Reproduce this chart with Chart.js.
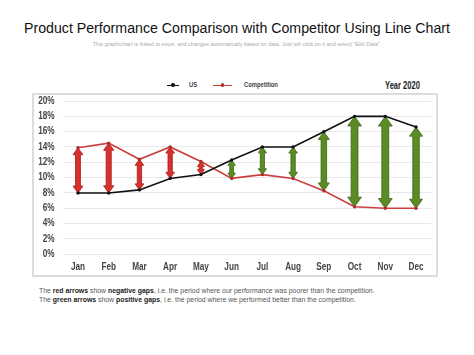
<!DOCTYPE html>
<html><head><meta charset="utf-8">
<script src="https://cdn.jsdelivr.net/npm/chart.js@4.4.0/dist/chart.umd.min.js"></script>
<style>
html,body{margin:0;padding:0;background:#fff;width:474px;height:355px;overflow:hidden;font-family:"Liberation Sans",Arial,sans-serif;}
#title{position:absolute;left:24px;top:19px;font-size:15.5px;color:#111;white-space:nowrap;transform-origin:0 0;}
#sub{position:absolute;left:0;top:41px;width:474px;text-align:center;font-size:5.5px;color:#aaa;white-space:nowrap;}
#legend{position:absolute;top:79px;left:0;width:474px;height:12px;font-weight:bold;font-size:7px;color:#444;}
.li{position:absolute;top:0;height:12px;line-height:12px;white-space:nowrap;}
.sym{position:absolute;top:5.5px;height:1.5px;}
.dot{position:absolute;top:4.2px;width:3.5px;height:3.5px;border-radius:50%;}
.lt{position:absolute;top:0;transform:scaleX(0.83);transform-origin:0 0;}
#year{position:absolute;left:385px;top:78.5px;font-weight:bold;font-size:10.5px;color:#222;transform:scaleX(0.72);transform-origin:0 0;white-space:nowrap;}
#wrap{position:absolute;left:32px;top:93px;width:406px;height:184px;}
#foot{position:absolute;left:39px;top:287px;font-size:6.9px;line-height:8.5px;color:#555;white-space:nowrap;}
#foot b{color:#222;}
</style></head>
<body>
<div id="title">Product Performance Comparison with Competitor Using Line Chart</div>
<div id="sub">This graph/chart is linked to excel, and changes automatically  based on data. Just left click on it and select "Edit Data".</div>
<div id="legend">
  <div class="li" style="left:167px;width:30px;"><div class="sym" style="left:0;width:12px;background:#111;"></div><div class="dot" style="left:4.2px;background:#111;"></div><span class="lt" style="left:22px;">US</span></div>
  <div class="li" style="left:213px;width:80px;"><div class="sym" style="left:0;width:19px;background:#c9403e;"></div><div class="dot" style="left:7.7px;background:#b02a28;"></div><span class="lt" style="left:31px;">Competition</span></div>
</div>
<div id="year">Year 2020</div>
<div id="wrap"><canvas id="c" width="406" height="184"></canvas></div>
<div id="foot">The <b>red arrows</b> show <b>negative gaps</b>, i.e. the period where our performance was  poorer than the competition.<br>The <b>green arrows</b> show <b>positive gaps</b>, i.e. the period where we performed better than the competition.</div>
<script>
const months = ["Jan","Feb","Mar","Apr","May","Jun","Jul","Aug","Sep","Oct","Nov","Dec"];
const usValues = [8, 8, 8.4, 9.9, 10.4, 12.3, 14, 14, 16, 18, 18, 16.6];
const competitionValues = [13.9, 14.5, 12.4, 14, 12.1, 9.9, 10.4, 9.9, 8.3, 6.2, 6, 6];
const yTicks = [0,2,4,6,8,10,12,14,16,18,20];

// fit title width to reference (condensed look)
(function(){
  const t = document.getElementById('title');
  const w = t.getBoundingClientRect().width;
  t.style.transform = 'scaleX(' + (426 / w) + ')';
})();

const canvas = document.getElementById('c');
const ctx2d = canvas.getContext('2d');
const origFill = ctx2d.fillText.bind(ctx2d);
ctx2d.fillText = function(text, x, y, maxWidth){
  const w = this.measureText(text).width * 0.82;
  const mw = (maxWidth !== undefined) ? Math.min(maxWidth, w) : w;
  origFill(text, x, y, mw);
};

const framePlugin = {
  id:'frame',
  beforeDraw(chart){
    const ctx = chart.ctx;
    ctx.save();
    ctx.strokeStyle = '#dcdcdc';
    ctx.lineWidth = 2;
    ctx.strokeRect(1,1,chart.width-2,chart.height-2);
    ctx.restore();
  }
};

function drawArrow(ctx, x, yTop, yBot, shaft, head, headLen, fill, stroke){
  const hl = Math.min(headLen, (yBot - yTop)/2);
  ctx.beginPath();
  ctx.moveTo(x, yTop);
  ctx.lineTo(x + head/2, yTop + hl);
  ctx.lineTo(x + shaft/2, yTop + hl);
  ctx.lineTo(x + shaft/2, yBot - hl);
  ctx.lineTo(x + head/2, yBot - hl);
  ctx.lineTo(x, yBot);
  ctx.lineTo(x - head/2, yBot - hl);
  ctx.lineTo(x - shaft/2, yBot - hl);
  ctx.lineTo(x - shaft/2, yTop + hl);
  ctx.lineTo(x - head/2, yTop + hl);
  ctx.closePath();
  ctx.fillStyle = fill;
  ctx.fill();
  ctx.lineWidth = 0.8;
  ctx.strokeStyle = stroke;
  ctx.stroke();
}

const arrowPlugin = {
  id:'arrows',
  afterDatasetsDraw(chart){
    const ctx = chart.ctx, xs = chart.scales.x, ys = chart.scales.y;
    ctx.save();
    months.forEach((m,i)=>{
      const a = usValues[i], b = competitionValues[i];
      const gap = Math.abs(a-b);
      const x = xs.getPixelForValue(i);
      const y1 = ys.getPixelForValue(Math.max(a,b));
      const y2 = ys.getPixelForValue(Math.min(a,b));
      const shaft = 3 + gap*0.33;
      const head = shaft*2;
      const headLen = shaft*1.4;
      const pos = a > b;
      drawArrow(ctx, x, y1, y2, shaft, head, headLen,
        pos ? '#5b8c24' : '#d8302c', pos ? '#3f6418' : '#a31d1b');
    });
    chart.data.datasets.forEach((ds,di)=>{
      const meta = chart.getDatasetMeta(di);
      meta.data.forEach(pt=>{
        ctx.beginPath();
        ctx.arc(pt.x, pt.y, 1.7, 0, Math.PI*2);
        ctx.fillStyle = di===0 ? '#111' : '#b02a28';
        ctx.fill();
      });
    });
    ctx.restore();
  }
};

new Chart(canvas, {
  type:'line',
  data:{
    labels: months,
    datasets:[
      {label:'US', data: usValues, borderColor:'#111', borderWidth:1.6, pointRadius:0, tension:0},
      {label:'Competition', data: competitionValues, borderColor:'#c9403e', borderWidth:1.6, pointRadius:0, tension:0}
    ]
  },
  options:{
    responsive:false, animation:false, devicePixelRatio:1,
    layout:{padding:{top:8,right:6.6,bottom:0,left:0}},
    plugins:{legend:{display:false}, tooltip:{enabled:false}},
    scales:{
      x:{
        offset:true,
        grid:{display:false, drawTicks:false},
        border:{display:false},
        ticks:{font:{family:'"Liberation Sans",sans-serif', size:10, weight:'bold'}, color:'#444', padding:7, autoSkip:false, maxRotation:0},
        afterFit(s){ s.height = 22.7; s.paddingLeft = 0; s.paddingRight = 0; }
      },
      y:{
        min:0, max:20,
        afterBuildTicks(s){ s.ticks = yTicks.map(v=>({value:v})); },
        grid:{color:'#e8e8e8', lineWidth:1, drawTicks:false},
        border:{display:false},
        ticks:{font:{family:'"Liberation Sans",sans-serif', size:10, weight:'bold'}, color:'#444', padding:8, autoSkip:false, callback:v=>v+'%'},
        afterFit(s){ s.width = 30.6; s.paddingTop = 0; s.paddingBottom = 0; }
      }
    }
  },
  plugins:[framePlugin, arrowPlugin]
});
</script>
</body></html>
